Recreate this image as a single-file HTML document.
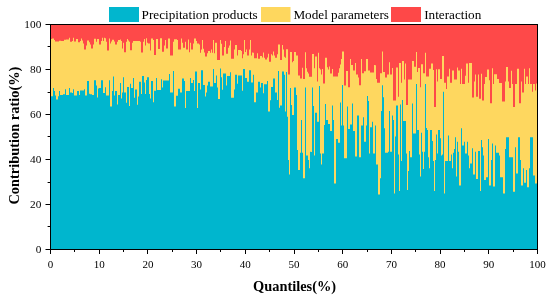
<!DOCTYPE html>
<html><head><meta charset="utf-8"><title>Contribution ratio by quantile</title>
<style>
html,body{margin:0;padding:0;background:#fff;}
body{width:550px;height:298px;overflow:hidden;position:relative;font-family:"Liberation Serif","Times New Roman",serif;}
</style></head><body>
<svg width="550" height="298" viewBox="0 0 550 298" style="position:absolute;left:0;top:0"><defs><clipPath id="pc"><rect x="50" y="24" width="488" height="226"/></clipPath><filter id="sb" x="-5%" y="-5%" width="110%" height="110%"><feGaussianBlur stdDeviation="0.4 0.3"/></filter></defs><g clip-path="url(#pc)"><g filter="url(#sb)"><rect x="40" y="14" width="508" height="246" fill="#FE4848"/><path d="M40,260V39.1H52V38.6H54V40H55V41.4H59V40.7H61V41.1H64V39.8H66V39.5H69V37.7H70V41.8H72V40.9H73V37.7H74V41.4H76V39.1H78V42.3H80V40.9H81V38.6H82V40.5H83V43.6H84V49.5H86V45.5H87V40.5H89V42.3H90V44.5H91V48.6H93V44.5H94V38.8H96V41.8H97V39.1H99V44.5H101V40.9H102V37.7H103V40.9H104V37.7H105V38.2H106V41.8H107V50.5H109V38.6H110V43.6H111V41.4H112V39.8H114V41.4H115V44.5H117V41.8H118V40H120V39.5H121V40.9H122V48.6H123V42.7H124V52.3H126V41.8H127V39.1H128V40.5H129V41.8H130V50.2H132V42.7H133V40.9H140V41.8H141V52.5H143V41.8H144V39.1H145V45.5H146V38.2H147V42.7H148V43.6H150V50.5H151V38.6H153V40H154V55H156V39.1H158V49.1H160V38.2H162V51.8H164V45.5H165V40H166V48.6H168V38.6H170V55.5H173V41.8H174V39.3H177V40H178V49.5H181V38.6H182V42.7H183V47.7H185V41.8H186V49.5H188V39.5H189V52.3H190V42.7H191V49.5H193V43.6H194V38.6H196V40.9H197V43.6H199V44.5H200V52.8H201V49.6H202V40.1H203V48.7H204V52.4H205V56.5H207V53.3H208V51H210V52.8H211V49.6H212V52.8H213V40.1H214V53.3H215V42.8H217V60.1H220V40.1H221V43.7H222V55.5H224V46.9H225V41H226V53.7H228V47.8H229V45.5H230V40.5H231V58.7H234V49.6H235V45.1H237V55.5H238V50.1H241V51H242V58.3H243V54.2H244V40.1H245V51.9H246V49.6H247V55.5H249V49.6H250V40.1H251V55.5H252V52.4H253V52.8H254V58.3H257V53.3H258V58.7H260V56H262V57.4H263V52.4H264V57.8H265V59.6H267V57.4H268V53.7H269V61.8H271V54.2H272V55.5H273V51.5H274V55.5H275V57.8H277V54.2H278V44.6H280V60.1H282V45.1H283V49.6H284V56.8H285V57.8H286V49.2H288V74.5H290V51.9H292V62.3H293V60.9H294V51.9H296V55.5H298V75.5H300V78.6H302V67.7H303V79.1H305V52.3H306V68.2H307V71.8H308V73.6H309V76.8H312V54.1H314V68.2H315V56.4H317V81.4H318V52.7H319V68.2H320V69.5H321V74.5H322V69.1H323V83.6H325V57.7H327V67.3H328V69.5H329V66.4H330V73.6H332V69.1H333V76.4H338V72.7H339V68.2H340V64.5H341V59.1H342V51.4H344V85.5H346V70.9H348V87.3H350V59.1H351V64.9H353V70.6H355V63H356V74.4H358V77.6H359V85.3H361V59.1H362V73.2H364V71.2H366V59.1H368V70.6H370V72.5H374V64.9H375V65.3H376V78.9H377V82.7H380V73.2H382V51.5H383V71.9H385V77.6H387V74.4H389V62.3H390V74.4H392V68.1H393V100.6H396V67.4H398V96.8H399V63H401V82.7H402V61H404V79.5H405V63.6H406V105.1H408V79.5H412V61H414V66.8H416V52.1H417V71.9H418V68.1H420V87.2H421V64.2H423V73.2H425V52.8H426V76.4H429V68.7H431V63.6H433V70H434V107H436V69.3H437V81.5H438V69.3H440V78.9H442V55.9H444V82.7H446V89.1H447V76.4H449V68.7H450V82.7H452V70.6H454V79.5H457V67.4H458V70.6H460V84H461V68.7H462V84H465V75.7H466V63.6H468V82.7H469V63H472V97.4H474V81.5H475V74.4H476V96.8H478V74.4H479V98.7H481V73.8H482V100.6H484V84.1H485V77.1H487V69.5H489V80.3H490V103.3H492V68.2H493V84.1H494V74.2H497V79H499V82.9H502V101.4H505V81.6H506V66.9H508V81.6H509V88H511V70.7H512V84.1H513V107H515V84H517V68.8H519V103.3H521V81.6H522V92.4H524V68.8H525V84.1H526V76.5H528V84.1H529V68.2H530V84.1H532V91.8H533V84.1H535V90.5H536V83.5H548V260Z" fill="#FED75E"/><path d="M40,260V96.2H53V87.9H54V91.1H55V95.6H56V99.4H58V96.2H59V91.1H60V95H63V94.3H65V89.2H66V95H69V87.9H70V92.4H72V93H73V89.2H74V95.6H77V91.1H79V95H80V90.5H84V89.2H85V95.6H87V80.9H89V93.7H90V94.3H92V95H94V80.3H96V85.4H97V97.5H98V88.6H99V87.9H101V80.3H103V93H105V87.3H106V95.6H109V80.3H110V106.4H112V91.1H113V76.5H114V95.6H115V91.1H117V104.5H118V95H120V83H121V98.4H122V92.6H123V77.3H124V92.6H126V102.8H127V86.9H129V106H130V83.7H131V88.1H133V77.9H134V97.7H135V89.4H137V104.7H138V96.4H139V81.8H141V93.9H142V76H144V82.4H145V93.9H146V79.9H147V77.3H149V93.9H150V98.4H151V81.1H153V102.2H154V90.7H156V77.9H157V90.1H161V79.2H162V87.5H163V80.5H169V74.1H170V92.6H173V70.9H174V106.6H176V95.8H178V88.8H180V92.6H182V78.6H184V81.1H185V107.9H186V91.1H190V77.9H191V83H193V79.9H194V91.1H195V71.6H197V107.9H198V83H200V89.4H201V70.3H203V85H205V96.4H206V92.6H207V85.6H208V81.8H210V86.5H213V69H214V83H216V75.4H217V87.5H218V99H220V68.4H221V77.3H222V89.8H223V73.5H226V85.6H227V76H230V72.2H231V97.7H234V89.4H235V74.8H237V83.7H238V75.4H242V90.7H243V69H245V77.9H247V81.8H249V70.3H251V82.4H253V74.8H254V102.2H256V92.6H258V81.8H260V87.5H261V83H263V93.2H264V84.3H267V81.1H268V111.6H270V100.3H271V86.9H273V78.6H275V92.6H277V100.1H278V70.9H279V107.8H280V105.5H282V71.6H284V74.8H285V111.6H286V72H287V116.7H288V160H289V174.5H290V88H291V105H292V115H294V87.4H296V95H297V150H298V170H300V152.7H301V120H302V152.7H303V178.2H305V87.5H306V155.5H308V160H309V168.2H310V151.8H311V152H312V87.5H313V106H314V155.5H315V112.7H317V121.8H319V86H320V153.6H321V164.5H322V153.6H324V125H325V104H326V120H328V124H330V130.9H332V105.5H333V120H334V183.6H336V139.1H338V142.7H340V102.4H341V125.5H342V85H343V125.5H344V158.2H347V106.4H348V129.1H350V124.5H352V103.6H353V130.9H355V156.4H357V115.5H359V157.3H361V125.5H363V117.3H364V141.8H366V125.5H367V96H368V101H369V153.6H370V127.3H372V121.8H373V153.6H375V125.5H376V164.5H378V194.5H380V178.2H381V111H382V85.3H383V97.3H384V128.2H385V152.7H388V151.8H389V110.9H390V151.8H392V115.5H393V120H394V193.6H395V136.4H396V105.5H398V154.5H399V190.9H400V104.5H401V160.9H402V100H403V120.9H406V153.6H407V190H408V170.9H409V150.9H410V157.3H412V103.6H413V133.6H416V84H417V130H419V154.5H420V176.4H421V132.7H422V151.8H423V169.1H424V151.8H425V84H426V128H427V130H428V157.3H429V168.2H430V130H432V140.9H433V160.9H434V190.9H435V160H436V134.5H437V153.6H438V130H440V138.2H441V155.5H442V154.5H443V91.8H444V193.6H445V160.9H448V135.5H449V160.9H451V154.5H452V168.2H453V152.7H454V149.1H455V137.3H456V176.4H457V141.8H458V151.8H459V185.5H461V128.2H462V145.5H464V141.8H465V153.6H467V141.8H468V155.5H469V168.2H470V163.6H472V148.2H473V174.5H475V151.8H476V179.1H478V150.9H480V190.9H481V140H482V147.3H483V155.5H484V180H486V177.3H488V139.1H489V185.5H491V160H492V143.6H493V186.4H495V145.5H496V152.7H499V155.5H500V177.3H503V193.6H505V149.1H506V137.3H509V157.3H513V191.8H515V147.3H516V173.6H518V137.3H520V160H521V185.5H523V168.2H524V182.7H526V170H527V187.3H529V168.2H530V137.3H533V175.5H535V183.6H548V260Z" fill="#01B6CE"/></g></g><g fill="#000" shape-rendering="crispEdges"><rect x="50" y="24" width="488" height="1"/><rect x="50" y="249" width="488" height="1"/><rect x="50" y="24" width="1" height="226"/><rect x="537" y="24" width="1" height="226"/><rect x="50" y="249" width="1" height="5"/><rect x="74" y="249" width="1" height="3"/><rect x="99" y="249" width="1" height="5"/><rect x="123" y="249" width="1" height="3"/><rect x="147" y="249" width="1" height="5"/><rect x="172" y="249" width="1" height="3"/><rect x="196" y="249" width="1" height="5"/><rect x="220" y="249" width="1" height="3"/><rect x="245" y="249" width="1" height="5"/><rect x="269" y="249" width="1" height="3"/><rect x="294" y="249" width="1" height="5"/><rect x="318" y="249" width="1" height="3"/><rect x="342" y="249" width="1" height="5"/><rect x="367" y="249" width="1" height="3"/><rect x="391" y="249" width="1" height="5"/><rect x="415" y="249" width="1" height="3"/><rect x="440" y="249" width="1" height="5"/><rect x="464" y="249" width="1" height="3"/><rect x="488" y="249" width="1" height="5"/><rect x="513" y="249" width="1" height="3"/><rect x="537" y="249" width="1" height="5"/></g><g fill="#000"><rect x="45.5" y="249" width="5.0" height="1"/><rect x="47.6" y="226" width="2.9" height="1"/><rect x="45.5" y="204" width="5.0" height="1"/><rect x="47.6" y="182" width="2.9" height="1"/><rect x="45.5" y="159" width="5.0" height="1"/><rect x="47.6" y="136" width="2.9" height="1"/><rect x="45.5" y="114" width="5.0" height="1"/><rect x="47.6" y="92" width="2.9" height="1"/><rect x="45.5" y="69" width="5.0" height="1"/><rect x="47.6" y="46" width="2.9" height="1"/><rect x="45.5" y="24" width="5.0" height="1"/></g><rect x="109" y="7" width="30" height="15" fill="#01B6CE"/><rect x="261" y="7" width="29.5" height="15" fill="#FED75E"/><rect x="391" y="7" width="30" height="15" fill="#FE4848"/><g font-family="'Liberation Serif', 'Times New Roman', serif" fill="#000"><g font-size="13.2"><text x="141.6" y="19.1">Precipitation products</text><text x="293.4" y="19.1">Model parameters</text><text x="424.2" y="19.1">Interaction</text></g><g font-size="11" text-anchor="middle"><text x="50.5" y="267.6">0</text><text x="99.2" y="267.6">10</text><text x="147.9" y="267.6">20</text><text x="196.6" y="267.6">30</text><text x="245.3" y="267.6">40</text><text x="294.0" y="267.6">50</text><text x="342.7" y="267.6">60</text><text x="391.4" y="267.6">70</text><text x="440.1" y="267.6">80</text><text x="488.8" y="267.6">90</text><text x="537.5" y="267.6">100</text></g><g font-size="11.3" text-anchor="end"><text x="41.3" y="252.5">0</text><text x="41.3" y="207.5">20</text><text x="41.3" y="162.5">40</text><text x="41.3" y="117.5">60</text><text x="41.3" y="72.5">80</text><text x="41.3" y="27.5">100</text></g><g font-size="14.4" font-weight="bold" text-anchor="middle"><text x="294.6" y="290.9">Quantiles(%)</text><text transform="translate(19.3,135.6) rotate(-90)">Contribution ratio(%)</text></g></g></svg>
</body></html>
